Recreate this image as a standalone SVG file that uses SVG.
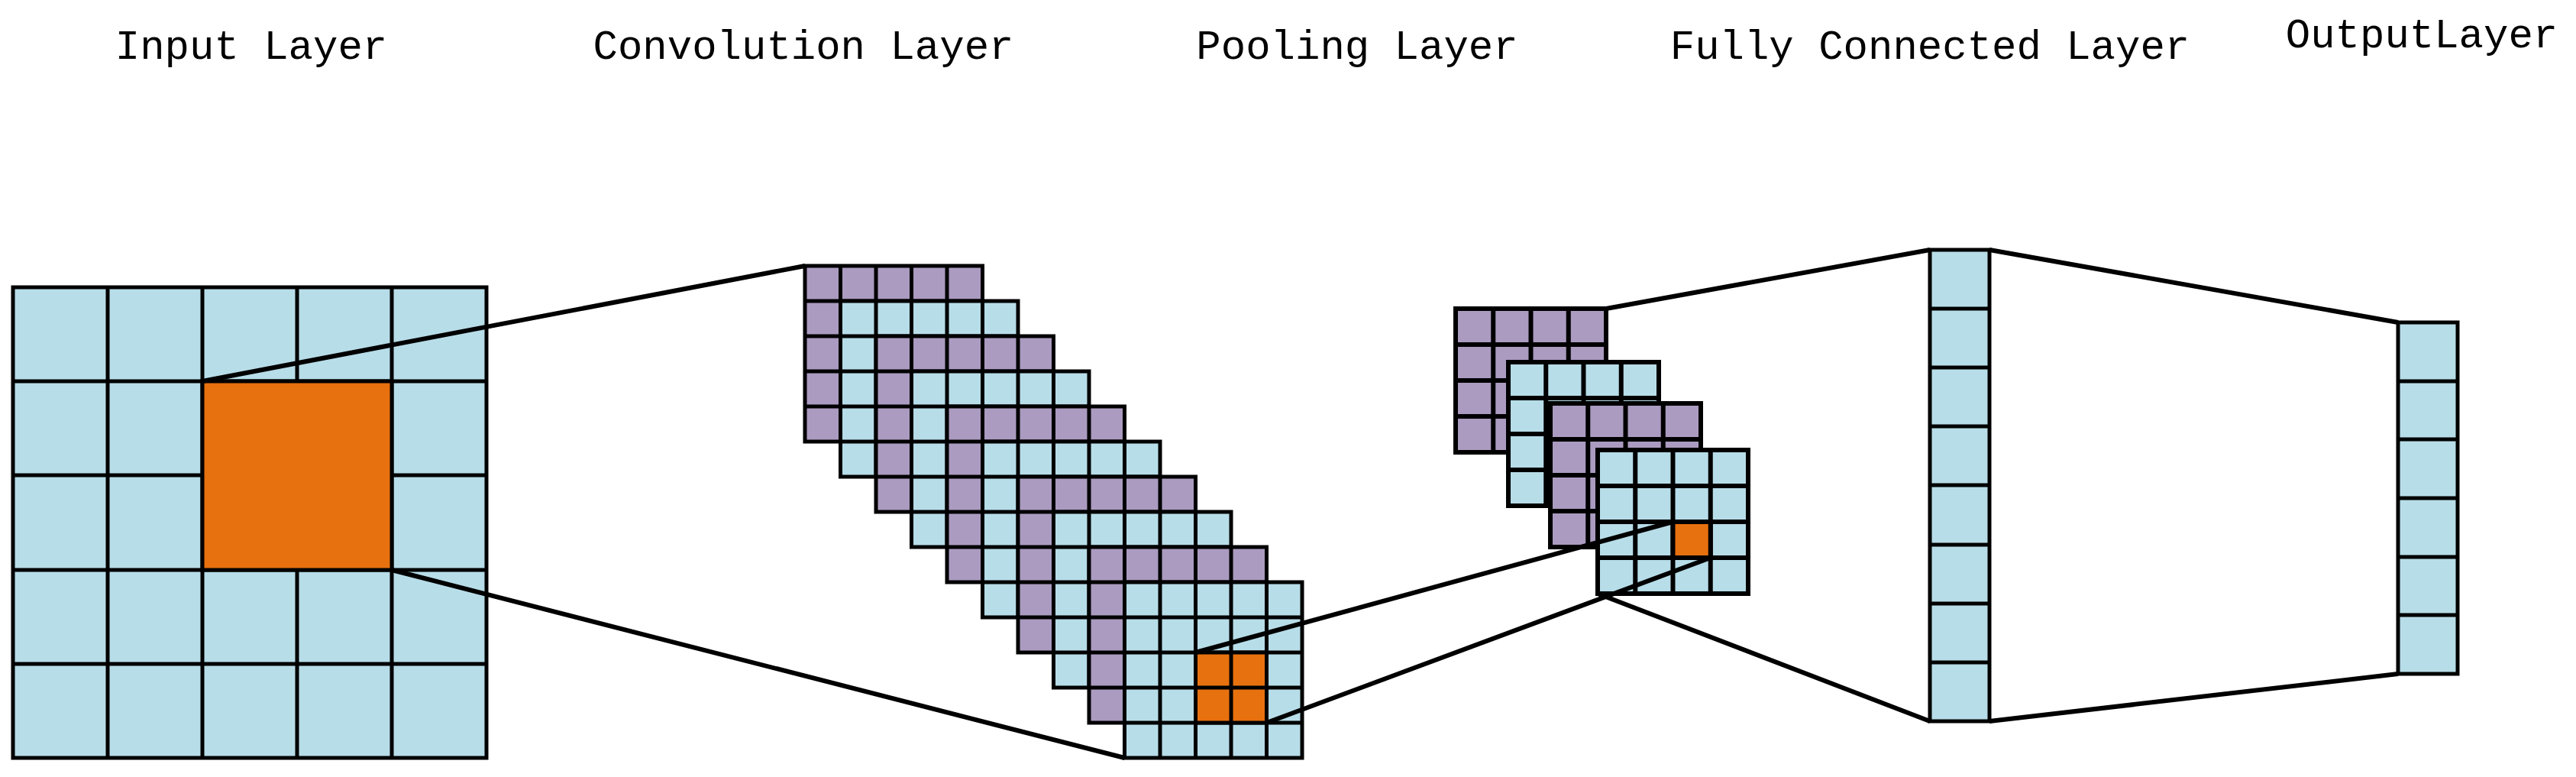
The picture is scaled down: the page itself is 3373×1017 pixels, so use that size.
<svg xmlns="http://www.w3.org/2000/svg" xmlns:xlink="http://www.w3.org/1999/xlink" width="3373" height="1017" viewBox="0 0 3373 1017">
<style>
.t{font-family:"Liberation Mono",monospace;font-size:54px;fill:#000;text-anchor:middle}
.g{stroke:#000;stroke-width:5;stroke-linejoin:miter}
.p{stroke:#000;stroke-width:6}
.ln{stroke:#000;stroke-width:6;fill:none}
.b{fill:#b7dde8}.u{fill:#ab9bc0}.o{fill:#e8710f}
</style>
<defs>
<g id="cgP"><rect class="g u" x="0" y="0" width="232.5" height="230"/><path class="g" fill="none" d="M46.5 0V230M93 0V230M139.5 0V230M186 0V230M0 46H232.5M0 92H232.5M0 138H232.5M0 184H232.5"/></g>
<g id="cgB"><rect class="g b" x="0" y="0" width="232.5" height="230"/><path class="g" fill="none" d="M46.5 0V230M93 0V230M139.5 0V230M186 0V230M0 46H232.5M0 92H232.5M0 138H232.5M0 184H232.5"/></g>
<g id="pgP"><rect class="p u" x="0" y="0" width="197" height="188"/><path class="p" fill="none" d="M49.25 0V188M98.5 0V188M147.75 0V188M0 47H197M0 94H197M0 141H197"/></g>
<g id="pgB"><rect class="p b" x="0" y="0" width="197" height="188"/><path class="p" fill="none" d="M49.25 0V188M98.5 0V188M147.75 0V188M0 47H197M0 94H197M0 141H197"/></g>
</defs>
<rect width="3373" height="1017" fill="#fff"/>
<g id="titles">
<text class="t" x="329" y="77">Input Layer</text>
<text class="t" x="1052" y="77">Convolution Layer</text>
<text class="t" x="1777" y="77">Pooling Layer</text>
<text class="t" x="2527" y="77">Fully Connected Layer</text>
<text class="t" x="3171" y="62">OutputLayer</text>
</g>
<g id="input">
<rect class="g b" x="17" y="376" width="620" height="616"/>
<path class="g" fill="none" d="M141 376V992M265 376V992M389 376V992M513 376V992M17 499H637M17 622H637M17 746H637M17 869H637"/>
<rect class="g o" x="265" y="499" width="248" height="247"/>
</g>
<g id="conv">
<use xlink:href="#cgP" x="1054" y="348"/>
<use xlink:href="#cgB" x="1100.5" y="394"/>
<use xlink:href="#cgP" x="1147" y="440"/>
<use xlink:href="#cgB" x="1193.5" y="486"/>
<use xlink:href="#cgP" x="1240" y="532"/>
<use xlink:href="#cgB" x="1286.5" y="578"/>
<use xlink:href="#cgP" x="1333" y="624"/>
<use xlink:href="#cgB" x="1379.5" y="670"/>
<use xlink:href="#cgP" x="1426" y="716"/>
<use xlink:href="#cgB" x="1472.5" y="762"/>
<rect class="g o" x="1565.5" y="854" width="93" height="92"/>
<path class="g" d="M1612 854V946M1565.5 900H1658.5"/>
</g>
<g id="pool">
<use xlink:href="#pgP" x="1906" y="404"/>
<use xlink:href="#pgB" x="1975" y="474"/>
<use xlink:href="#pgP" x="2030" y="528"/>
<use xlink:href="#pgB" x="2092" y="589"/>
<rect class="p o" x="2190.5" y="683" width="49.25" height="47"/>
</g>
<g id="fc">
<rect class="g b" x="2527" y="327" width="78" height="617"/>
<path class="g" fill="none" d="M2527 404H2605M2527 481H2605M2527 558H2605M2527 635H2605M2527 713H2605M2527 790H2605M2527 867H2605"/>
</g>
<g id="output">
<rect class="g b" x="3140" y="422" width="78" height="460"/>
<path class="g" fill="none" d="M3140 499H3218M3140 575H3218M3140 652H3218M3140 729H3218M3140 805H3218"/>
</g>
<g id="connectors">
<path class="ln" d="M265 499L1054 348M513 746L1472.5 992"/>
<path class="ln" d="M1565.5 854L2190.5 683M1658.5 946L2239.75 730"/>
<path class="ln" d="M2103 404L2527 327M2092 777L2527 944"/>
<path class="ln" d="M2605 327L3140 422M2605 944L3140 882"/>
</g>
</svg>
